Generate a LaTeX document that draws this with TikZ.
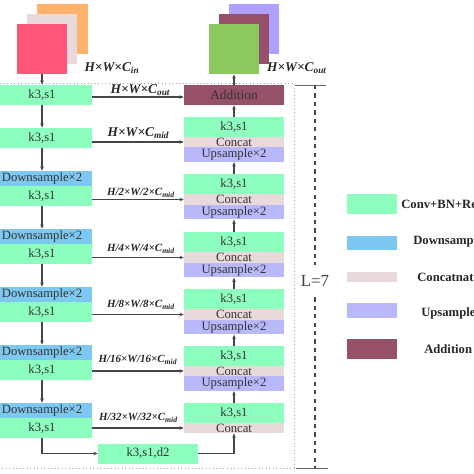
\documentclass[tikz,border=0pt]{standalone}
\usepackage{fontspec}
\setmainfont{Liberation Serif}
\usetikzlibrary{arrows.meta, positioning}
\definecolor{cgrn} {RGB}{140,255,190}
\definecolor{cblu} {RGB}{125,200,240}
\definecolor{cgry} {RGB}{232,218,218}
\definecolor{cpur} {RGB}{184,184,250}
\definecolor{cmar} {RGB}{150, 80,106}
\definecolor{cpnk} {RGB}{255, 85,120}
\definecolor{corg} {RGB}{255,178,107}
\definecolor{clim} {RGB}{140,200, 96}
\definecolor{clil} {RGB}{176,160,255}
\definecolor{dline}{RGB}{ 70, 70, 70}
\tikzset{
  % Layer blocks, width in cm as argument
  KB/.style={rectangle,fill=cgrn,minimum width=#1,minimum height=0.5cm,
             inner sep=0pt,font=\fontsize{9}{9}\selectfont,text=black!80},
  KB/.default=2.5cm,
  DS/.style={rectangle,fill=cblu,minimum width=2.5cm,minimum height=0.375cm,
             inner sep=0pt,font=\fontsize{9}{9}\selectfont,text=black!80},
  CC/.style={rectangle,fill=cgry,minimum width=2.5cm,minimum height=0.26cm,
             inner sep=0pt,font=\fontsize{9}{9}\selectfont,text=black!80},
  US/.style={rectangle,fill=cpur,minimum width=2.5cm,minimum height=0.37cm,
             inner sep=0pt,font=\fontsize{9}{9}\selectfont,text=black!80},
  AD/.style={rectangle,fill=cmar,minimum width=2.5cm,minimum height=0.5cm,
             inner sep=0pt,font=\fontsize{9.5}{10}\selectfont,text=black!80},
  % Feature map square
  FM/.style={rectangle,fill=#1,minimum size=1.25cm,inner sep=0pt},
  % Size labels
  SZ/.style={inner sep=0pt,font=\fontsize{9.5}{10}\selectfont\bfseries\itshape,text=black!85},
  SS/.style={inner sep=0pt,font=\fontsize{7.8}{9}\selectfont\bfseries\itshape,text=black!85},
  % Legend
  LG/.style={rectangle,fill=#1,minimum width=1.25cm,inner sep=0pt},
  LT/.style={anchor=west,inner sep=0pt,font=\fontsize{9}{10}\selectfont\bfseries,text=black!85},
  % Arrows
  Arr/.style={-{Stealth[length=3pt,width=2.5pt]},line width=0.8pt,color=dline},
  Frm/.style={dotted,line width=0.5pt,color=black!35},
  Brk/.style={line width=0.6pt,color=black!60},
  Dsh/.style={dashed,line width=0.8pt,color=dline},
}
\begin{document}
\begin{tikzpicture}[x=0.025cm,y=-0.025cm]
      \useasboundingbox (0,0) rectangle (474,474);
      \clip (0,0) rectangle (474,474);
      % Input stack
      \node[FM=corg] at (62.5,29) (ia) {};
      \node[FM=cgry] at (52,39) (ib) {};
      \node[FM=cpnk] at (42,49) (ic) {};
      \node[SZ] at (112,68.5) (lin) {H×W×C\textsubscript{in}};
      % Output stack
      \node[FM=clil] at (254,29) (oa) {};
      \node[FM=cmar] at (244,39) (ob) {};
      \node[FM=clim] at (234,49) (oc) {};
      \node[SZ] at (297,68) (lout) {H×W×C\textsubscript{out}};
      % Frame
      \draw[Frm] (0,83) -- (294,83) -- (294,468) -- (0,468);
      % Encoder
      \node[KB] at (42,95) (e1) {k3,s1};
      \node[KB] at (42,138) (e2) {k3,s1};
      \node[DS] at (42,178.5) (ds3) {Downsample×2};
      \node[KB] at (42,196) (e3) {k3,s1};
      \node[DS] at (42,236.5) (ds4) {Downsample×2};
      \node[KB] at (42,254) (e4) {k3,s1};
      \node[DS] at (42,294.5) (ds5) {Downsample×2};
      \node[KB] at (42,312) (e5) {k3,s1};
      \node[DS] at (42,352.5) (ds6) {Downsample×2};
      \node[KB] at (42,370) (e6) {k3,s1};
      \node[DS] at (42,410.5) (ds7) {Downsample×2};
      \node[KB] at (42,428) (e7) {k3,s1};
      % Bottleneck
      \node[KB] at (148,453.5) (mid) {k3,s1,d2};
      % Decoder
      \node[AD] at (234,95) (add) {Addition};
      \node[KB] at (234,127) (k1) {k3,s1};
      \node[CC] at (234,142) (cc1) {Concat};
      \node[US] at (234,154.5) (up1) {Upsample×2};
      \node[KB] at (234,184) (k2) {k3,s1};
      \node[CC] at (234,199.5) (cc2) {Concat};
      \node[US] at (234,212) (up2) {Upsample×2};
      \node[KB] at (234,242) (k3) {k3,s1};
      \node[CC] at (234,257.5) (cc3) {Concat};
      \node[US] at (234,270) (up3) {Upsample×2};
      \node[KB] at (234,299) (k4) {k3,s1};
      \node[CC] at (234,314.5) (cc4) {Concat};
      \node[US] at (234,327) (up4) {Upsample×2};
      \node[KB] at (234,356) (k5) {k3,s1};
      \node[CC] at (234,371) (cc5) {Concat};
      \node[US] at (234,383.5) (up5) {Upsample×2};
      \node[KB] at (234,413) (k6) {k3,s1};
      \node[CC] at (234,428) (cc6) {Concat};
      % Down path
      \draw[Arr] (ic.south) -- (e1.north);
      \draw[Arr] (e1.south) -- (e2.north);
      \draw[Arr] (e2.south) -- (ds3.north);
      \draw[Arr] (e3.south) -- (ds4.north);
      \draw[Arr] (e4.south) -- (ds5.north);
      \draw[Arr] (e5.south) -- (ds6.north);
      \draw[Arr] (e6.south) -- (ds7.north);
      \draw[Arr] (e7.south) |- (mid.west);
      \draw[Arr] (mid.east) -| (cc6.south);
      % Up path
      \draw[Arr] (k6.north) -- (up5.south);
      \draw[Arr] (k5.north) -- (up4.south);
      \draw[Arr] (k4.north) -- (up3.south);
      \draw[Arr] (k3.north) -- (up2.south);
      \draw[Arr] (k2.north) -- (up1.south);
      \draw[Arr] (k1.north) -- (add.south);
      \draw[Arr] (add.north) -- (oc.south);
      % Skip paths
      \draw[Arr] ([yshift=-0.05cm]e1.east) -- ([yshift=-0.05cm]add.west);
      \draw[Arr] (e2.east |- cc1.west) -- (cc1.west);
      \draw[Arr] (e3.east |- cc2.west) -- (cc2.west);
      \draw[Arr] (e4.east |- cc3.west) -- (cc3.west);
      \draw[Arr] (e5.east |- cc4.west) -- (cc4.west);
      \draw[Arr] (e6.east |- cc5.west) -- (cc5.west);
      \draw[Arr] (e7.east |- cc6.west) -- (cc6.west);
      % Size labels
      \node[SZ] at (140.5,90) (l1) {H×W×C\textsubscript{out}};
      \node[SZ] at (138.5,133) (l2) {H×W×C\textsubscript{mid}};
      \node[SS] at (141,193) (l3) {H/2×W/2×C\textsubscript{mid}};
      \node[SS] at (141,249) (l4) {H/4×W/4×C\textsubscript{mid}};
      \node[SS] at (141,305) (l5) {H/8×W/8×C\textsubscript{mid}};
      \node[SS] at (138,360) (l6) {H/16×W/16×C\textsubscript{mid}};
      \node[SS] at (138.5,418) (l7) {H/32×W/32×C\textsubscript{mid}};
      % Depth bracket
      \coordinate (ta) at (295,85);
      \coordinate (tb) at (326,85);
      \coordinate (ba) at (296,468);
      \coordinate (bb) at (328,468);
      \coordinate (tm) at (315,85);
      \coordinate (bm) at (315,468);
      \node[font=\fontsize{12}{14}\selectfont,text=black!75,inner sep=0pt,
            minimum height=0.8cm] at (315,281) (depth) {L=7};
      \draw[Brk] (ta) -- (tb);
      \draw[Brk] (ba) -- (bb);
      \draw[Dsh] (tm) -- (depth.north);
      \draw[Dsh] (depth.south) -- (bm);
      % Legend
      \node[LG=cgrn,minimum height=0.5cm] at (372,204) (gk) {};
      \node[LG=cblu,minimum height=0.36cm] at (372,243) (gd) {};
      \node[LG=cgry,minimum height=0.25cm] at (372,277) (gc) {};
      \node[LG=cpur,minimum height=0.37cm] at (372,310.5) (gu) {};
      \node[LG=cmar,minimum height=0.5cm] at (372,349) (ga) {};
      \node[LT] at (401,204) (tk) {Conv+BN+ReLU};
      \node[LT] at (413,241) (td) {Downsample};
      \node[LT] at (417,277) (tc) {Concatnate};
      \node[LT] at (421,313) (tu) {Upsample};
      \node[LT] at (424,349) (ta2) {Addition};
\end{tikzpicture}
\end{document}
